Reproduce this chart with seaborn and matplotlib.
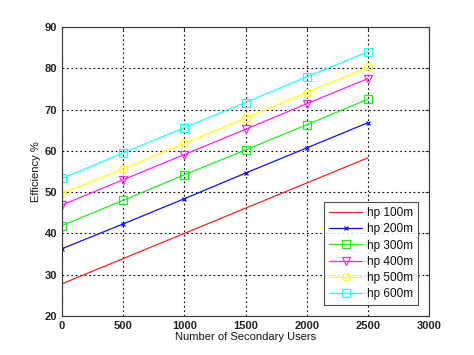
import numpy as np
import pandas as pd
import matplotlib
matplotlib.use("Agg")
import matplotlib.pyplot as plt
import seaborn as sns

users = [0, 500, 1000, 1500, 2000, 2500]
labels = ["hp 100m", "hp 200m", "hp 300m", "hp 400m", "hp 500m", "hp 600m"]
eff_100 = [27.8, 33.9, 40.0, 46.1, 52.2, 58.3]
eff_200 = [36.3, 42.3, 48.4, 54.6, 60.7, 66.8]
eff_300 = [41.9, 48.0, 54.2, 60.2, 66.3, 72.5]
eff_400 = [46.9, 53.0, 59.1, 65.2, 71.4, 77.5]
eff_500 = [49.7, 55.6, 61.8, 67.9, 74.1, 80.2]
eff_600 = [53.3, 59.5, 65.6, 71.7, 77.9, 84.0]

colors = ["#ff2020", "#1010ff", "#20ee20", "#ff20ff", "#ffff10", "#20ffff"]
markers = [None, "x", "s", "v", "o", "s"]

sns.set_style("white")
plt.rcParams["font.family"] = ["Liberation Sans", "DejaVu Sans"]

fig = plt.figure(figsize=(4.74, 3.55), dpi=100)
ax = fig.add_axes([0.131, 0.110, 0.774, 0.814])

series = [eff_100, eff_200, eff_300, eff_400, eff_500, eff_600]
for vals, lab, c, m in zip(series, labels, colors, markers):
    df = pd.DataFrame({"users": users, "eff": vals})
    sns.lineplot(data=df, x="users", y="eff", ax=ax, color=c, label=lab,
                 marker=m, markersize=5.5 if m != "x" else 3.5, mfc="none", mec=c,
                 mew=0.9, linewidth=0.9)

ax.set_xlim(0, 3000)
ax.set_ylim(20, 90)
ax.set_xticks(range(0, 3001, 500))
ax.set_yticks(range(20, 91, 10))
ax.grid(True, color="black", linestyle=(0, (1.5, 2.5)), linewidth=0.8)
ax.tick_params(direction="in", length=3, labelsize=8, color="#333333", top=True, right=True)
for t in ax.get_xticklabels() + ax.get_yticklabels():
    t.set_fontweight("bold")
    t.set_color("#222222")
for s in ax.spines.values():
    s.set_color("#333333")
    s.set_linewidth(0.8)
ax.set_xlabel("Number of Secondary Users", fontsize=8, labelpad=1, color="#111111")
ax.set_ylabel("Efficiency %", fontsize=8, labelpad=3, color="#111111")

leg = ax.legend(loc="lower right", fontsize=8.5, frameon=True, fancybox=False,
                edgecolor="#222222", handlelength=2.8, borderaxespad=0.9,
                labelspacing=0.35, handletextpad=0.4, borderpad=0.45)
leg.get_frame().set_linewidth(0.8)
for t in leg.get_texts():
    t.set_color("#111111")

fig.savefig("out.png", dpi=100)
